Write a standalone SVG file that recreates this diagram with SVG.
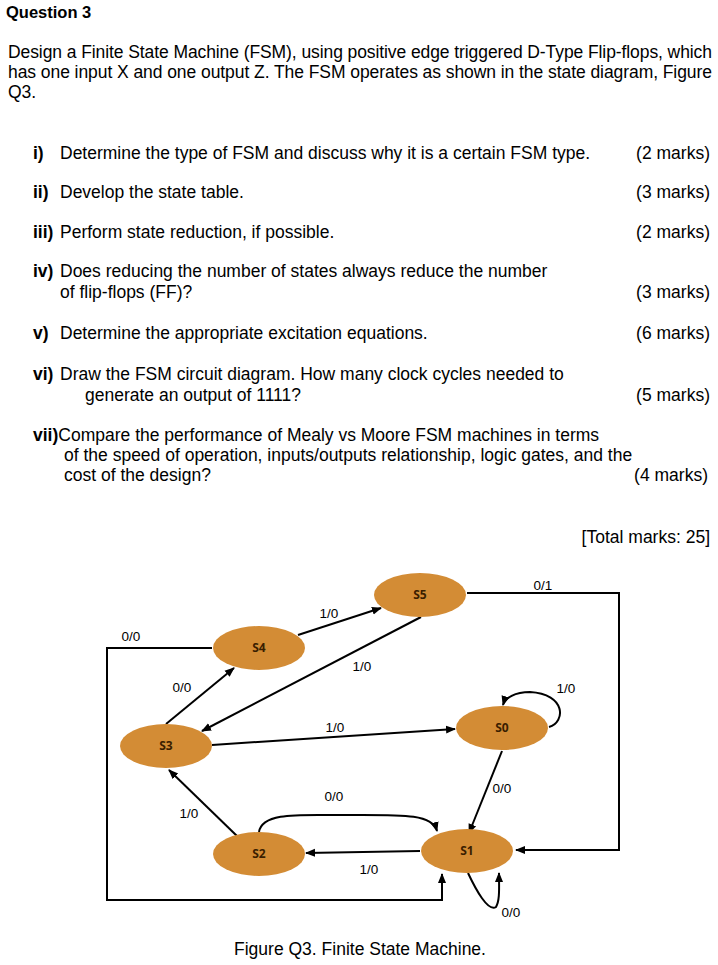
<svg xmlns="http://www.w3.org/2000/svg" width="718" height="965" viewBox="0 0 718 965">
<style>
.t{font-family:"Liberation Sans",Arial,sans-serif;font-size:17.5px;fill:#000}
.b{font-weight:bold}
.r{text-anchor:end}
.l{font-family:"Liberation Sans",Arial,sans-serif;font-size:13.5px;fill:#000;text-anchor:middle}
.n{font-family:"Open Sans","DejaVu Sans",sans-serif;font-size:12px;font-weight:bold;fill:#3a1e00;text-anchor:middle}
.st{fill:#d38c35}
.c{fill:none;stroke:#000;stroke-width:2}
</style>
<defs>
<marker id="a" viewBox="0 0 10 10" refX="9" refY="5" markerWidth="5" markerHeight="5" orient="auto"><path d="M0,1 L10,5 L0,9 z" fill="#000"/></marker>
</defs>
<rect width="718" height="965" fill="#fff"/>
<text class="t b" x="6" y="18" style="font-size:16.5px">Question 3</text>
<text class="t" x="8" y="58" textLength="704">Design a Finite State Machine (FSM), using positive edge triggered D-Type Flip-flops, which</text>
<text class="t" x="8" y="78" textLength="704">has one input X and one output Z. The FSM operates as shown in the state diagram, Figure</text>
<text class="t" x="8" y="98">Q3.</text>
<text class="t b" x="33" y="159">i)</text><text class="t" x="60" y="159">Determine the type of FSM and discuss why it is a certain FSM type.</text><text class="t r" x="710" y="159">(2 marks)</text>
<text class="t b" x="33" y="198">ii)</text><text class="t" x="60" y="198">Develop the state table.</text><text class="t r" x="710" y="198">(3 marks)</text>
<text class="t b" x="33" y="238">iii)</text><text class="t" x="60" y="238">Perform state reduction, if possible.</text><text class="t r" x="710" y="238">(2 marks)</text>
<text class="t b" x="33" y="277">iv)</text><text class="t" x="60" y="277">Does reducing the number of states always reduce the number</text>
<text class="t" x="60" y="298">of flip-flops (FF)?</text><text class="t r" x="710" y="298">(3 marks)</text>
<text class="t b" x="33" y="339">v)</text><text class="t" x="60" y="339">Determine the appropriate excitation equations.</text><text class="t r" x="710" y="339">(6 marks)</text>
<text class="t b" x="33" y="380">vi)</text><text class="t" x="60" y="380">Draw the FSM circuit diagram. How many clock cycles needed to</text>
<text class="t" x="85" y="401">generate an output of 1111?</text><text class="t r" x="710" y="401">(5 marks)</text>
<text class="t" x="33" y="441"><tspan class="b">vii)</tspan>Compare the performance of Mealy vs Moore FSM machines in terms</text>
<text class="t" x="64" y="461">of the speed of operation, inputs/outputs relationship, logic gates, and the</text>
<text class="t" x="64" y="481">cost of the design?</text><text class="t r" x="708" y="481">(4 marks)</text>
<text class="t r" x="710" y="543">[Total marks: 25]</text>
<g id="connectors">
<path class="c" d="M467,593 H619 V850 H516" marker-end="url(#a)"/>
<path class="c" d="M298,635 L381,608" marker-end="url(#a)"/>
<path class="c" d="M212,648 H107 V900 H442 V874" marker-end="url(#a)"/>
<path class="c" d="M166,724 L234,668" marker-end="url(#a)"/>
<path class="c" d="M421,617 L202,731" marker-end="url(#a)"/>
<path class="c" d="M212,745 L455,729" marker-end="url(#a)"/>
<path class="c" d="M549,727 C566,722 566,694 530,692 C515,692 505,698 503,705" marker-end="url(#a)"/>
<path class="c" d="M502,751 L469,833" marker-end="url(#a)"/>
<path class="c" d="M259,832 C262,812 300,815 340,815 C400,815 432,813 437,831" marker-end="url(#a)"/>
<path class="c" d="M420,851 L306,853" marker-end="url(#a)"/>
<path class="c" d="M237,836 L169,770" marker-end="url(#a)"/>
<path class="c" d="M468,873 C476,890 488,912 496,907 C500,900 499,888 499,873" marker-end="url(#a)"/>
</g>
<g id="labels">
<text class="l" x="543" y="590">0/1</text>
<text class="l" x="329" y="618">1/0</text>
<text class="l" x="131" y="641">0/0</text>
<text class="l" x="182" y="692">0/0</text>
<text class="l" x="362" y="671">1/0</text>
<text class="l" x="335" y="732">1/0</text>
<text class="l" x="566" y="693">1/0</text>
<text class="l" x="502" y="793">0/0</text>
<text class="l" x="334" y="801">0/0</text>
<text class="l" x="369" y="874">1/0</text>
<text class="l" x="189" y="818">1/0</text>
<text class="l" x="511" y="917">0/0</text>
</g>
<g id="S5"><ellipse class="st" cx="420" cy="595" rx="46" ry="22"/><text class="n" x="420" y="599">S5</text></g>
<g id="S4"><ellipse class="st" cx="259" cy="648" rx="46" ry="22"/><text class="n" x="259" y="652">S4</text></g>
<g id="S3"><ellipse class="st" cx="166" cy="746" rx="46" ry="22"/><text class="n" x="166" y="750">S3</text></g>
<g id="S0"><ellipse class="st" cx="502" cy="728" rx="46" ry="22"/><text class="n" x="502" y="732">S0</text></g>
<g id="S2"><ellipse class="st" cx="259" cy="854" rx="46" ry="22"/><text class="n" x="259" y="858">S2</text></g>
<g id="S1"><ellipse class="st" cx="467" cy="851" rx="46" ry="22"/><text class="n" x="467" y="855">S1</text></g>
<text class="t" x="360" y="955" text-anchor="middle">Figure Q3. Finite State Machine.</text>
</svg>
